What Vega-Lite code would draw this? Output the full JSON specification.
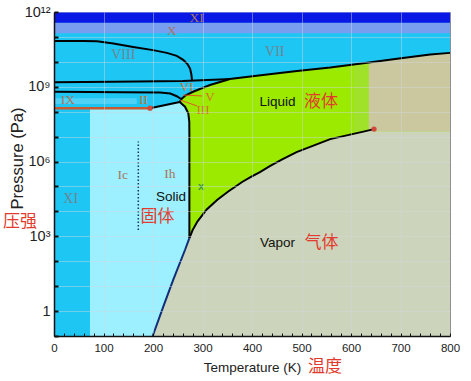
{
"$schema": "https://vega.github.io/schema/vega-lite/v6.json",
"width": 396, "height": 324,
"autosize": {"type": "none"},
"padding": {"left": 54, "top": 12, "right": 21, "bottom": 45},
"background": "white",
"config": {"view": {"stroke": "#555", "strokeWidth": 1}},
"datasets": {
"rects": [
{"r": "base", "T": 0, "T2": 800, "P": 0.1, "P2": 1e12},
{"r": "X", "T": 0, "T2": 800, "P": 1.4e11, "P2": 3.72e11},
{"r": "XIb", "T": 0, "T2": 800, "P": 3.72e11, "P2": 1e12},
{"r": "IX", "T": 0, "T2": 167, "P": 2.04e8, "P2": 3.47e8}
],
"liquid": [
{"T": 254, "P": 0.1, "P2": 2.45e8},
{"T": 258, "P": 0.1, "P2": 3.31e8},
{"T": 266, "P": 0.1, "P2": 4.57e8},
{"T": 281, "P": 0.1, "P2": 6.31e8},
{"T": 315, "P": 0.1, "P2": 1.175e9},
{"T": 349, "P": 0.1, "P2": 1.86e9},
{"T": 355, "P": 0.1, "P2": 2.04e9},
{"T": 422, "P": 0.1, "P2": 2.95e9},
{"T": 491, "P": 0.1, "P2": 4.27e9},
{"T": 558, "P": 0.1, "P2": 5.89e9},
{"T": 625, "P": 0.1, "P2": 8.71e9},
{"T": 693, "P": 0.1, "P2": 1.318e10},
{"T": 760, "P": 0.1, "P2": 1.95e10},
{"T": 800, "P": 0.1, "P2": 2.29e10}
],
"strip": [
{"T": 604.6, "P": 1.29e7, "P2": 7.76e9},
{"T": 625, "P": 1.585e7, "P2": 8.71e9},
{"T": 636, "P": 1.78e7, "P2": 9.33e9}
],
"ice": [
{"T": 72.7, "P": 0.1, "P2": 1.38e8},
{"T": 194, "P": 0.1, "P2": 1.38e8},
{"T": 254, "P": 0.1, "P2": 2.45e8},
{"T": 264.6, "P": 0.1, "P2": 1.585e8},
{"T": 271.3, "P": 0.1, "P2": 8.71e7},
{"T": 273.3, "P": 0.1, "P2": 3.98e7},
{"T": 273.5, "P": 0.1, "P2": 1.175e7}
],
"vapor": [
{"T": 199.4, "P": 0.1, "P2": 0.1},
{"T": 220.6, "P": 0.1, "P2": 1.48},
{"T": 240.8, "P": 0.1, "P2": 17.8},
{"T": 264.6, "P": 0.1, "P2": 282},
{"T": 273.5, "P": 0.1, "P2": 851},
{"T": 280, "P": 0.1, "P2": 1778},
{"T": 290, "P": 0.1, "P2": 3981},
{"T": 308.5, "P": 0.1, "P2": 12000},
{"T": 330, "P": 0.1, "P2": 29500},
{"T": 352, "P": 0.1, "P2": 63100},
{"T": 380, "P": 0.1, "P2": 151000},
{"T": 396, "P": 0.1, "P2": 229000},
{"T": 416, "P": 0.1, "P2": 380000},
{"T": 436, "P": 0.1, "P2": 661000},
{"T": 460, "P": 0.1, "P2": 1.2e6},
{"T": 490, "P": 0.1, "P2": 2.4e6},
{"T": 558, "P": 0.1, "P2": 7.94e6},
{"T": 625, "P": 0.1, "P2": 1.585e7},
{"T": 646.5, "P": 0.1, "P2": 2.0e7},
{"T": 646.6, "P": 0.1, "P2": 1.66e7},
{"T": 800, "P": 0.1, "P2": 1.66e7}
],
"tan": [
{"T": 636, "P": 1.66e7, "P2": 9.33e9},
{"T": 693, "P": 1.66e7, "P2": 1.318e10},
{"T": 760, "P": 1.66e7, "P2": 1.95e10},
{"T": 800, "P": 1.66e7, "P2": 2.29e10}
],
"blk": [
{"s": "viii", "i": 0, "T": 0, "P": 6.92e10},
{"s": "viii", "i": 1, "T": 60, "P": 6.92e10},
{"s": "viii", "i": 2, "T": 87, "P": 6.76e10},
{"s": "viii", "i": 3, "T": 120, "P": 5.5e10},
{"s": "viii", "i": 4, "T": 160, "P": 3.98e10},
{"s": "viii", "i": 5, "T": 200, "P": 2.95e10},
{"s": "viii", "i": 6, "T": 228, "P": 2.29e10},
{"s": "viii", "i": 7, "T": 248, "P": 1.74e10},
{"s": "viii", "i": 8, "T": 261, "P": 1.2e10},
{"s": "viii", "i": 9, "T": 270, "P": 7.94e9},
{"s": "viii", "i": 10, "T": 275, "P": 5.25e9},
{"s": "viii", "i": 11, "T": 277.5, "P": 3.16e9},
{"s": "viii", "i": 12, "T": 279, "P": 1.74e9},
{"s": "vi", "i": 0, "T": 0, "P": 1.51e9},
{"s": "vi", "i": 1, "T": 120, "P": 1.585e9},
{"s": "vi", "i": 2, "T": 260, "P": 1.7e9},
{"s": "vi", "i": 3, "T": 335, "P": 1.95e9},
{"s": "vi", "i": 4, "T": 355, "P": 2.04e9},
{"s": "l3", "i": 0, "T": 0, "P": 6.31e8},
{"s": "l3", "i": 1, "T": 214, "P": 5.89e8},
{"s": "l3", "i": 2, "T": 235, "P": 5.37e8},
{"s": "l3", "i": 3, "T": 248, "P": 4.17e8},
{"s": "l3", "i": 4, "T": 256, "P": 3.3e8},
{"s": "liq", "i": 0, "T": 254, "P": 2.45e8},
{"s": "liq", "i": 1, "T": 258, "P": 3.31e8},
{"s": "liq", "i": 2, "T": 266, "P": 4.57e8},
{"s": "liq", "i": 3, "T": 281, "P": 6.31e8},
{"s": "liq", "i": 4, "T": 315, "P": 1.175e9},
{"s": "liq", "i": 5, "T": 349, "P": 1.86e9},
{"s": "liq", "i": 6, "T": 355, "P": 2.04e9},
{"s": "liq", "i": 7, "T": 422, "P": 2.95e9},
{"s": "liq", "i": 8, "T": 491, "P": 4.27e9},
{"s": "liq", "i": 9, "T": 558, "P": 5.89e9},
{"s": "liq", "i": 10, "T": 625, "P": 8.71e9},
{"s": "liq", "i": 11, "T": 693, "P": 1.318e10},
{"s": "liq", "i": 12, "T": 760, "P": 1.95e10},
{"s": "liq", "i": 13, "T": 800, "P": 2.29e10},
{"s": "ii", "i": 0, "T": 194, "P": 1.38e8},
{"s": "ii", "i": 1, "T": 254, "P": 2.45e8},
{"s": "melt", "i": 0, "T": 254, "P": 2.45e8},
{"s": "melt", "i": 1, "T": 264.6, "P": 1.585e8},
{"s": "melt", "i": 2, "T": 271.3, "P": 8.71e7},
{"s": "melt", "i": 3, "T": 273.3, "P": 3.98e7},
{"s": "melt", "i": 4, "T": 273.5, "P": 1.175e7},
{"s": "melt", "i": 5, "T": 273.5, "P": 851},
{"s": "vap", "i": 0, "T": 273.5, "P": 851},
{"s": "vap", "i": 1, "T": 280, "P": 1778},
{"s": "vap", "i": 2, "T": 290, "P": 3981},
{"s": "vap", "i": 3, "T": 308.5, "P": 12000},
{"s": "vap", "i": 4, "T": 330, "P": 29500},
{"s": "vap", "i": 5, "T": 352, "P": 63100},
{"s": "vap", "i": 6, "T": 380, "P": 151000},
{"s": "vap", "i": 7, "T": 396, "P": 229000},
{"s": "vap", "i": 8, "T": 416, "P": 380000},
{"s": "vap", "i": 9, "T": 436, "P": 661000},
{"s": "vap", "i": 10, "T": 460, "P": 1.2e6},
{"s": "vap", "i": 11, "T": 490, "P": 2.4e6},
{"s": "vap", "i": 12, "T": 558, "P": 7.94e6},
{"s": "vap", "i": 13, "T": 625, "P": 1.585e7},
{"s": "vap", "i": 14, "T": 646.5, "P": 2.0e7}
],
"subl": [
{"i": 0, "T": 199.4, "P": 0.1},
{"i": 1, "T": 220.6, "P": 1.48},
{"i": 2, "T": 240.8, "P": 17.8},
{"i": 3, "T": 264.6, "P": 282},
{"i": 4, "T": 273.5, "P": 851}
],
"redline": [
{"i": 0, "T": 0, "P": 1.38e8},
{"i": 1, "T": 194, "P": 1.38e8}
],
"dotted": [
{"i": 0, "T": 170.3, "P": 1778},
{"i": 1, "T": 170.3, "P": 6.31e6}
],
"pointers": [
{"s": "V", "i": 0, "T": 260.6, "P": 4.68e8},
{"s": "V", "i": 1, "T": 299, "P": 4.27e8},
{"s": "III", "i": 0, "T": 254.5, "P": 2.95e8},
{"s": "III", "i": 1, "T": 289, "P": 1.7e8}
],
"dots": [
{"T": 194, "P": 1.38e8},
{"T": 646.5, "P": 2.0e7}
],
"romanGrey": [
{"t": "VIII", "T": 140, "P": 1.86e10},
{"t": "VII", "T": 446, "P": 2.57e10},
{"t": "XI", "T": 33.7, "P": 3.02e4}
],
"romanBrown": [
{"t": "XI", "T": 288, "P": 5.62e11},
{"t": "X", "T": 238, "P": 1.78e11},
{"t": "IX", "T": 28, "P": 2.82e8},
{"t": "Ic", "T": 138.8, "P": 2.88e5},
{"t": "Ih", "T": 234.3, "P": 3.09e5}
],
"romanOrange": [
{"t": "II", "T": 181, "P": 2.95e8},
{"t": "VI", "T": 268, "P": 9.55e8},
{"t": "V", "T": 315, "P": 3.98e8},
{"t": "III", "T": 301, "P": 1.175e8}
],
"phase": [
{"t": "Liquid", "T": 451.5, "P": 2.51e8},
{"t": "Solid", "T": 236.4, "P": 3.8e4},
{"t": "Vapor", "T": 451.5, "P": 525}
],
"cjk": [
{"t": "液体", "T": 539.4, "P": 2.51e8},
{"t": "固体", "T": 209, "P": 6170},
{"t": "气体", "T": 540.4, "P": 525},
{"t": "压强", "T": -68.7, "P": 3846},
{"t": "温度", "T": 547.5, "P": 0.00589}
],
"xmark": [
{"t": "x", "T": 297, "P": 97700}
]
},
"encoding": {
"x": {"field": "T", "type": "quantitative",
 "scale": {"domain": [0, 800], "nice": false, "zero": false},
 "axis": {
  "values": [0,20,40,60,80,100,120,140,160,180,200,220,240,260,280,300,320,340,360,380,400,420,440,460,480,500,520,540,560,580,600,620,640,660,680,700,720,740,760,780,800],
  "labelExpr": "datum.value % 100 === 0 ? datum.label : ''",
  "grid": true, "gridColor": "#d0d8e0",
  "gridOpacity": {"condition": {"test": "datum.value % 100 === 0", "value": 0.45}, "value": 0},
  "tickSize": -3, "tickColor": "#111", "domainColor": "#111", "domainWidth": 1.5,
  "labelFont": "Liberation Sans", "labelFontSize": 11.5, "labelColor": "#222", "labelPadding": 9,
  "labelFlush": false, "labelOverlap": false,
  "title": "Temperature (K)", "titleFont": "Liberation Sans", "titleFontSize": 13.5,
  "titleFontWeight": "normal", "titleColor": "#222", "titlePadding": 7, "zindex": 1
 }},
"y": {"field": "P", "type": "quantitative",
 "scale": {"type": "log", "domain": [0.1, 1e12], "nice": false, "zero": false},
 "axis": {
  "values": [0.1,1,10,100,1000,10000,100000,1000000,10000000,100000000,1000000000,10000000000,100000000000,1000000000000],
  "labelExpr": "datum.value === 1 ? '1' : datum.value === 1000 ? '10\u00b3' : datum.value === 1000000 ? '10\u2076' : datum.value === 1000000000 ? '10\u2079' : datum.value === 1000000000000 ? '10\u00b9\u00b2' : ''",
  "grid": true, "gridColor": "#d0d8e0", "gridOpacity": 0.45,
  "tickSize": -4, "tickWidth": 2, "tickColor": "#111", "domainColor": "#111", "domainWidth": 1.5,
  "labelFont": "Liberation Sans", "labelFontSize": 14.5, "labelColor": "#222", "labelPadding": 8,
  "labelOverlap": false,
  "title": "Pressure (Pa)", "titleFont": "Liberation Sans", "titleFontSize": 16.5,
  "titleFontWeight": "normal", "titleColor": "#222", "titleX": -29, "titleY": 146, "zindex": 1
 }}
},
"layer": [
{"data": {"name": "rects"}, "mark": {"type": "rect"},
 "encoding": {"x2": {"field": "T2"}, "y2": {"field": "P2"},
  "color": {"field": "r", "type": "nominal", "legend": null,
   "scale": {"domain": ["base", "X", "XIb", "IX"], "range": ["#1ec6f4", "#789ef0", "#0a18e6", "#4fd2f8"]}}}},
{"data": {"name": "liquid"}, "mark": {"type": "area", "color": "#9bea00", "opacity": 1}, "encoding": {"y2": {"field": "P2"}}},
{"data": {"name": "strip"}, "mark": {"type": "area", "color": "#a0e22a", "opacity": 1}, "encoding": {"y2": {"field": "P2"}}},
{"data": {"name": "ice"}, "mark": {"type": "area", "color": "#9cf0ff", "opacity": 1}, "encoding": {"y2": {"field": "P2"}}},
{"data": {"name": "vapor"}, "mark": {"type": "area", "color": "#ccd5bb", "opacity": 1}, "encoding": {"y2": {"field": "P2"}}},
{"data": {"name": "tan"}, "mark": {"type": "area", "color": "#cbc79f", "opacity": 1}, "encoding": {"y2": {"field": "P2"}}},
{"data": {"name": "redline"}, "mark": {"type": "line", "color": "#c65a32", "strokeWidth": 2.5}, "encoding": {"order": {"field": "i"}}},
{"data": {"name": "blk"}, "mark": {"type": "line", "color": "#000000", "strokeWidth": 2}, "encoding": {"detail": {"field": "s"}, "order": {"field": "i"}}},
{"data": {"name": "subl"}, "mark": {"type": "line", "color": "#102e7a", "strokeWidth": 2}, "encoding": {"order": {"field": "i"}}},
{"data": {"name": "dotted"}, "mark": {"type": "line", "color": "#1a3560", "strokeWidth": 1.5, "strokeDash": [1.5, 2]}, "encoding": {"order": {"field": "i"}}},
{"data": {"name": "pointers"}, "mark": {"type": "line", "color": "#e05a20", "strokeWidth": 1}, "encoding": {"detail": {"field": "s"}, "order": {"field": "i"}}},
{"data": {"name": "dots"}, "mark": {"type": "circle", "color": "#d04a3a", "size": 28, "opacity": 1}},
{"data": {"name": "romanGrey"}, "mark": {"type": "text", "font": "Liberation Serif", "fontSize": 14, "color": "#6f8592", "align": "center", "baseline": "middle"}, "encoding": {"text": {"field": "t"}}},
{"data": {"name": "romanBrown"}, "mark": {"type": "text", "font": "Liberation Serif", "fontSize": 13.5, "color": "#a87560", "align": "center", "baseline": "middle"}, "encoding": {"text": {"field": "t"}}},
{"data": {"name": "romanOrange"}, "mark": {"type": "text", "font": "Liberation Serif", "fontSize": 13, "color": "#d8702a", "align": "center", "baseline": "middle"}, "encoding": {"text": {"field": "t"}}},
{"data": {"name": "phase"}, "mark": {"type": "text", "font": "Liberation Sans", "fontSize": 13.5, "color": "#111111", "align": "center", "baseline": "middle"}, "encoding": {"text": {"field": "t"}}},
{"data": {"name": "cjk"}, "mark": {"type": "text", "font": "Noto Sans CJK SC", "fontSize": 17, "color": "#e23a2c", "align": "center", "baseline": "middle"}, "encoding": {"text": {"field": "t"}}},
{"data": {"name": "xmark"}, "mark": {"type": "text", "font": "Liberation Sans", "fontSize": 11, "fontWeight": "bold", "color": "#3a9a3a", "align": "center", "baseline": "middle"}, "encoding": {"text": {"field": "t"}}}
]
}
